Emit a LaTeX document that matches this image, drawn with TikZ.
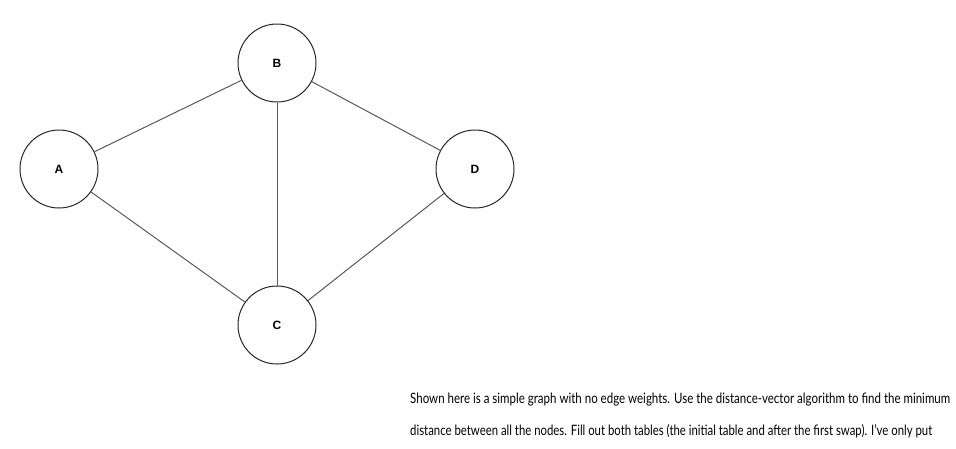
\documentclass[tikz,border=0pt]{standalone}
\usepackage{fontspec}
\usepackage{graphicx}
\setmainfont{Lato}
\newfontfamily\lab{Liberation Sans}
\begin{document}
\begin{tikzpicture}[x=1pt,y=-1pt,
  vert/.style={circle,draw=black!85,line width=1pt,minimum size=78pt,inner sep=0pt,font=\lab\bfseries\fontsize{12}{14}\selectfont},
  edge/.style={draw=black!65,line width=1pt},
  txt/.style={anchor=west,inner sep=0pt,font=\fontsize{14.3}{17}\selectfont}]
\useasboundingbox (0,0) rectangle (956,448);
\node[vert] (A) at (59,169) {A};
\node[vert] (B) at (277,63) {B};
\node[vert] (C) at (277,325) {C};
\node[vert] (D) at (475,169) {D};
\draw[edge] (A) -- (B);
\draw[edge] (A) -- (C);
\draw[edge] (B) -- (C);
\draw[edge] (B) -- (D);
\draw[edge] (C) -- (D);
\node[txt] (t1) at (410,400) {\resizebox{540pt}{\height}{Shown here is a simple graph with no edge weights. Use the distance-vector algorithm to find the minimum}};
\node[txt] (t2) at (410,431) {\resizebox{522pt}{\height}{distance between all the nodes. Fill out both tables (the initial table and after the first swap). I've only put}};
\end{tikzpicture}
\end{document}
